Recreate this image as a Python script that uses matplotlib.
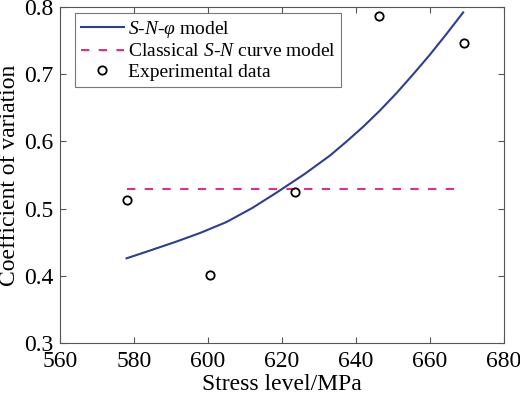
import matplotlib
matplotlib.use('Agg')
import matplotlib.pyplot as plt

#fonts: Times-like serif, italic letters through mathtext
plt.rcParams['font.family'] = 'Liberation Serif'
plt.rcParams['mathtext.fontset'] = 'custom'
plt.rcParams['mathtext.rm'] = 'Liberation Serif'
plt.rcParams['mathtext.it'] = 'Liberation Serif:italic'

#S-N-phi model curve
stress_model = [578, 584, 591.5, 598, 605, 612, 618.6, 626, 633, 637.5, 642, 646.5, 651, 655.5, 660, 664.5, 669]
cov_model = [0.426, 0.437, 0.451, 0.464, 0.480, 0.501, 0.524, 0.551, 0.579, 0.600, 0.622, 0.646, 0.672, 0.700, 0.729, 0.760, 0.792]

#classical S-N curve model
stress_classic = [578, 669]
cov_classic = [0.529, 0.529]

#experimental data
stress_exp = [578, 600.5, 623.5, 646.3, 669.2]
cov_exp = [0.513, 0.401, 0.525, 0.786, 0.747]

fig = plt.figure(figsize=(5.2, 4), dpi=100)
ax = fig.add_axes([0.1154, 0.1425, 0.8536, 0.84])

ax.plot(stress_model, cov_model, '-', color='#2e3f91', lw=1.5, label=r'$S$-$N$-$φ$ model')
ax.plot(stress_classic, cov_classic, '--', color='#d6338a', lw=1.5, dashes=(4, 4.5),
        label=r'Classical $S$-$N$ curve model')
ax.plot(stress_exp, cov_exp, 'o', mfc='none', mec='black', mew=1.3, ms=6, label='Experimental data')

ax.set_xlim(560, 680)
ax.set_ylim(0.3, 0.8)
ax.set_xticks(range(560, 681, 20))
ax.set_yticks([0.3, 0.4, 0.5, 0.6, 0.7, 0.8])
ax.set_yticklabels(['0.3', '0.4', '0.5', '0.6', '0.7', '0.8'])
ax.tick_params(direction='in', top=True, right=True, length=4, width=0.8,
               labelsize=17, color='#555555')
ax.tick_params(axis='x', pad=5.5)
ax.tick_params(axis='y', pad=5)
for s in ax.spines.values():
    s.set_color('#555555')
    s.set_linewidth(0.8)

ax.set_xlabel('Stress level/MPa', fontsize=17, labelpad=1.5)
ax.set_ylabel('Coefficient of variation', fontsize=17)
ax.yaxis.set_label_coords(-0.09, 0.5)

leg = ax.legend(loc='upper left', bbox_to_anchor=(0.034, 0.982), borderaxespad=0,
                fontsize=14, frameon=True, fancybox=False,
                edgecolor='#555555', handlelength=2.2, handletextpad=0.2,
                borderpad=0.3, labelspacing=0.15)
leg.get_frame().set_linewidth(0.8)

plt.savefig('out.png', dpi=100)
